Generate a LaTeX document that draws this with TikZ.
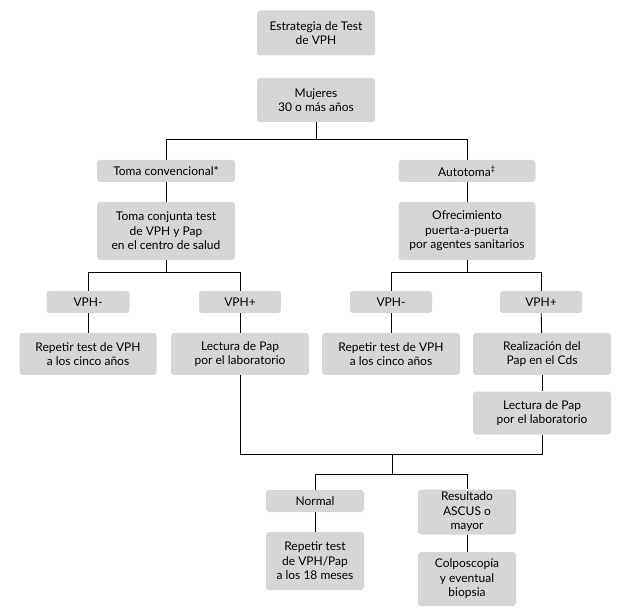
\documentclass[tikz,border=0pt]{standalone}
\usepackage{fontspec}
\setmainfont{Lato}
\begin{document}
\begin{tikzpicture}[x=1pt,y=-1pt,
 box/.style={fill=black!16,rounded corners=3pt,align=center,inner sep=0pt,font=\fontsize{12}{14.5}\selectfont},
 ln/.style={line width=0.9pt}]
\useasboundingbox (0,0) rectangle (626,609);
\newcommand{\bx}[6]{\node[box,minimum width=#4,minimum height=#5] (#1) at (#2,#3) {#6};}
\bx{a}{316}{33}{118}{45}{Estrategia de Test\\de VPH}
\bx{b}{316}{100}{118}{44}{Mujeres\\30 o más años}
\bx{c}{166}{171}{138}{22}{Toma convencional*}
\bx{d}{467}{171}{137}{22}{Autotoma\textsuperscript{‡}}
\bx{e}{166}{231}{138}{58}{Toma conjunta test\\de VPH y Pap\\en el centro de salud}
\bx{f}{467}{231}{137}{58}{Ofrecimiento\\puerta-a-puerta\\por agentes sanitarios}
\bx{g}{88}{302}{83}{22}{VPH-}
\bx{h}{240}{302}{82}{22}{VPH+}
\bx{i}{391}{302}{82}{22}{VPH-}
\bx{j}{541}{302}{82}{22}{VPH+}
\bx{k}{88}{354}{137}{42}{Repetir test de VPH\\a los cinco años}
\bx{l}{240}{354}{138}{42}{Lectura de Pap\\por el laboratorio}
\bx{m}{391}{354}{138}{42}{Repetir test de VPH\\a los cinco años}
\bx{n}{542}{354}{138}{42}{Realización del\\Pap en el Cds}
\bx{o}{542}{413}{138}{43}{Lectura de Pap\\por el laboratorio}
\bx{p}{315}{501}{98}{22}{Normal}
\bx{q}{467}{512}{98}{45}{Resultado\\ASCUS o\\mayor}
\bx{r}{315}{561}{98}{58}{Repetir test\\de VPH/Pap\\a los 18 meses}
\bx{s}{467}{579}{98}{54}{Colposcopía\\y eventual\\biopsia}
\coordinate (y1) at (0,139);
\coordinate (y2) at (0,272);
\coordinate (y3) at (0,454);
\coordinate (y4) at (0,474);
\coordinate (m3) at (392,454);
\draw[ln] (b.south) |- (y1 -| c.north) -- (c.north);
\draw[ln] (b.south) |- (y1 -| d.north) -- (d.north);
\draw[ln] (c) -- (e);
\draw[ln] (d) -- (f);
\draw[ln] (e.south) |- (y2 -| g.north) -- (g.north);
\draw[ln] (e.south) |- (y2 -| h.north) -- (h.north);
\draw[ln] (f.south) |- (y2 -| i.north) -- (i.north);
\draw[ln] (f.south) |- (y2 -| j.north) -- (j.north);
\draw[ln] (g) -- (k); \draw[ln] (h) -- (l); \draw[ln] (i) -- (m); \draw[ln] (j) -- (n);
\draw[ln] (n) -- (o);
\draw[ln] (l.south) |- (y3 -| o.south) -- (o.south);
\draw[ln] (m3) |- (y4 -| p.north) -- (p.north);
\draw[ln] (m3) |- (y4 -| q.north) -- (q.north);
\draw[ln] (p) -- (r); \draw[ln] (q) -- (s);
\end{tikzpicture}
\end{document}
